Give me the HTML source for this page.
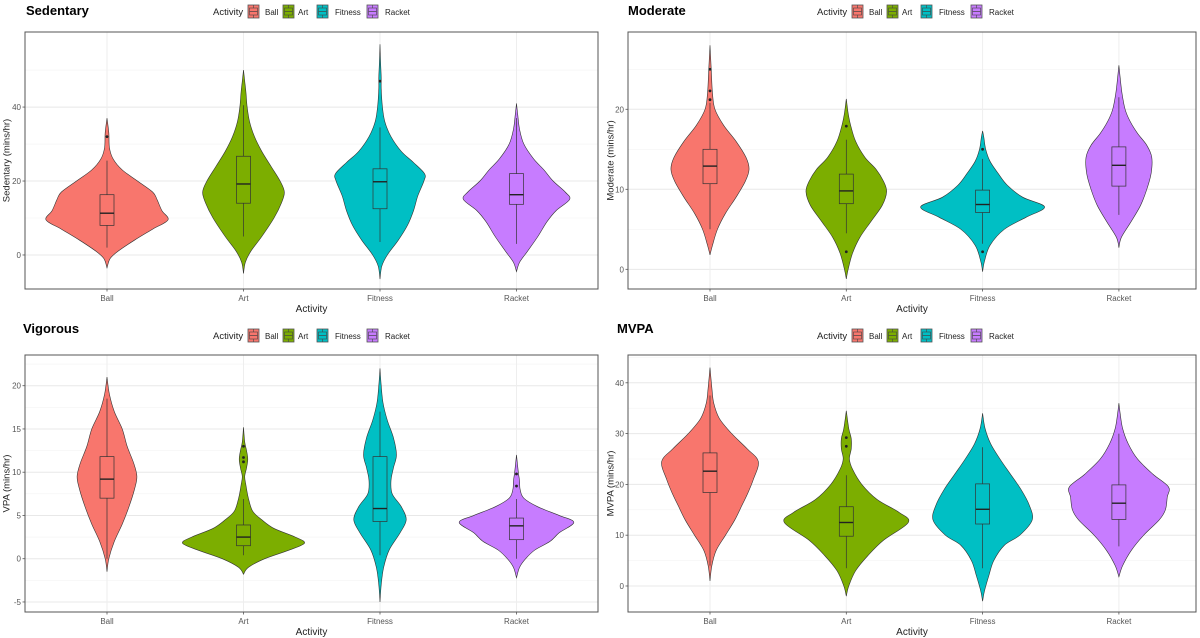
<!DOCTYPE html>
<html><head><meta charset="utf-8">
<style>
html,body{margin:0;padding:0;background:#fff;}
svg{display:block;font-family:"Liberation Sans",sans-serif;}
</style></head>
<body>
<svg id="chart" width="1200" height="638" viewBox="0 0 1200 638"></svg>
<script>
const categories = ["Ball","Art","Fitness","Racket"];
const colors = ["#F8766D","#7CAE00","#00BFC4","#C77CFF"];

// Sedentary
const sedentaryDensity = [
 [[-3.5,0],[-1,0.05],[1,0.18],[4,0.45],[7,0.75],[9.5,1.0],[12,0.9],[15,0.82],[17,0.75],[20,0.5],[23,0.25],[26,0.1],[29,0.04],[33,0.03],[37,0]],
 [[-5,0],[-2,0.03],[1,0.12],[5,0.3],[10,0.5],[14,0.62],[17,0.67],[20,0.6],[24,0.45],[28,0.3],[32,0.18],[36,0.1],[40,0.06],[44,0.04],[47,0.02],[50,0]],
 [[-6.5,0],[-3,0.03],[0,0.12],[4,0.3],[8,0.45],[12,0.55],[16,0.62],[20,0.72],[22,0.73],[25,0.55],[28,0.35],[32,0.18],[36,0.08],[40,0.04],[45,0.02],[48,0.02],[52,0.01],[57,0]],
 [[-4.5,0],[-2,0.05],[1,0.18],[5,0.35],[9,0.5],[12,0.65],[15,0.87],[17,0.8],[20,0.6],[23,0.45],[26,0.28],[30,0.12],[34,0.05],[38,0.02],[41,0]]
];
const sedentaryBoxes = [[2,8,11.3,16.3,25.5],[5,14,19.2,26.7,40.5],[3.5,12.5,19.8,23.3,34.5],[3,13.7,16.3,22,37]];
const sedentaryOutliers = [[32],[],[47],[]];

// Moderate
const moderateDensity = [
 [[1.8,0],[3,0.04],[5,0.12],[7,0.25],[9,0.42],[11,0.57],[12.5,0.63],[14,0.58],[16,0.42],[18,0.22],[20,0.08],[22,0.04],[25,0.02],[28,0]],
 [[-1.2,0],[0,0.03],[2,0.1],[4,0.22],[6,0.4],[8,0.58],[9.7,0.65],[11,0.6],[12.5,0.48],[14,0.3],[16,0.15],[18,0.07],[19.5,0.03],[21.3,0]],
 [[-0.3,0],[1,0.03],[3,0.12],[5,0.35],[6.5,0.7],[7.8,1.0],[9,0.65],[10.5,0.4],[12,0.25],[13.5,0.12],[15,0.05],[16.5,0.02],[17.3,0]],
 [[2.7,0],[4,0.04],[6,0.2],[8,0.35],[10,0.45],[12,0.52],[14,0.53],[15.5,0.45],[17,0.3],[18.5,0.18],[20,0.1],[22,0.05],[24,0.02],[25.5,0]]
];
const moderateBoxes = [[5,10.7,12.9,15,20.8],[4.5,8.2,9.8,11.9,16.2],[3.2,7.1,8.1,9.9,13.8],[6.8,10.4,13,15.3,21.5]];
const moderateOutliers = [[21.2,22.3,25],[2.2,17.9],[2.2,15],[]];

// Vigorous
const vigorousDensity = [
 [[-1.5,0],[0,0.03],[2,0.12],[4,0.25],[6,0.36],[8,0.45],[9.5,0.49],[11,0.44],[13,0.33],[15,0.25],[17,0.12],[19,0.04],[21,0]],
 [[-1.8,0],[-1,0.08],[0,0.35],[1,0.75],[1.8,1.0],[2.5,0.85],[3.5,0.5],[4.5,0.3],[5.5,0.15],[7,0.08],[8.5,0.04],[9.5,0.02],[10.5,0.05],[11.5,0.07],[12.5,0.05],[13.5,0.02],[15.2,0]],
 [[-5,0],[-3,0.02],[-1,0.06],[1,0.15],[3,0.33],[4.5,0.43],[6,0.35],[7.5,0.2],[9,0.18],[10.5,0.22],[12,0.27],[14,0.22],[16,0.12],[18,0.05],[20,0.02],[22,0]],
 [[-2.2,0],[-1,0.05],[0,0.15],[1,0.3],[2,0.55],[3,0.7],[4.2,0.94],[5,0.7],[6,0.35],[7,0.12],[8,0.06],[9,0.05],[10,0.03],[12,0]]
];
const vigorousBoxes = [[0,7,9.2,11.8,18.5],[0.4,1.5,2.5,3.9,6.9],[0.4,4.3,5.8,11.8,17],[0,2.2,3.8,4.7,6.9]];
const vigorousOutliers = [[],[11.2,11.7,13],[],[8.4,9.8]];

// MVPA
const mvpaDensity = [
 [[1,0],[4,0.03],[7,0.1],[10,0.25],[13,0.4],[16,0.52],[18,0.6],[21,0.7],[24.5,0.78],[27,0.6],[30,0.35],[33,0.15],[36,0.06],[39,0.03],[43,0]],
 [[-2,0],[0,0.04],[3,0.15],[6,0.35],[9,0.6],[12.5,1.0],[14.5,0.85],[17,0.5],[20,0.25],[23,0.1],[25,0.05],[27,0.08],[29,0.08],[31,0.04],[34.5,0]],
 [[-3,0],[-1,0.03],[2,0.1],[5,0.18],[8,0.35],[10,0.6],[13,0.8],[16,0.75],[19,0.62],[22,0.45],[25,0.28],[28,0.13],[31,0.04],[34,0]],
 [[1.8,0],[4,0.06],[7,0.2],[10,0.4],[13,0.65],[15,0.75],[17.5,0.78],[19.5,0.8],[22,0.55],[25,0.3],[28,0.15],[31,0.06],[34,0.02],[36,0]]
];
const mvpaBoxes = [[4,18.4,22.6,26.2,37.5],[3.5,9.8,12.5,15.6,21.8],[3.5,12.2,15.1,20.1,27.3],[7.8,13.1,16.3,19.9,30]];
const mvpaOutliers = [[],[27.5,29.2],[],[]];

const sedTicks=[0,20,40], sedMinor=[10,30,50];
const modTicks=[0,10,20], modMinor=[5,15,25];
const vigTicks=[-5,0,5,10,15,20], vigMinor=[-2.5,2.5,7.5,12.5,17.5,22.5];
const mvpaTicks=[0,10,20,30,40], mvpaMinor=[5,15,25,35,45];

const panels = [
 {name:"sedentary",title:"Sedentary",ylab:"Sedentary (mins/hr)",dens:sedentaryDensity,box:sedentaryBoxes,out:sedentaryOutliers,ticks:sedTicks,minor:sedMinor,
  x0:25,x1:598,y0:32,y1:289,dom:[-9.2,60.3],cx0:107,step:136.5,maxW:61,tx:26,ty:15,lx:213,ly:4,ytx:7,tickR:21},
 {name:"moderate",title:"Moderate",ylab:"Moderate (mins/hr)",dens:moderateDensity,box:moderateBoxes,out:moderateOutliers,ticks:modTicks,minor:modMinor,
  x0:628,x1:1196,y0:32,y1:289,dom:[-2.46,29.66],cx0:710,step:136.3,maxW:62,tx:628,ty:15,lx:817,ly:4,ytx:611,tickR:624},
 {name:"vigorous",title:"Vigorous",ylab:"VPA (mins/hr)",dens:vigorousDensity,box:vigorousBoxes,out:vigorousOutliers,ticks:vigTicks,minor:vigMinor,
  x0:25,x1:598,y0:355,y1:612,dom:[-6.16,23.55],cx0:107,step:136.5,maxW:61,tx:23,ty:333,lx:213,ly:328,ytx:7,tickR:21},
 {name:"mvpa",title:"MVPA",ylab:"MVPA (mins/hr)",dens:mvpaDensity,box:mvpaBoxes,out:mvpaOutliers,ticks:mvpaTicks,minor:mvpaMinor,
  x0:628,x1:1196,y0:355,y1:612,dom:[-5.12,45.47],cx0:710,step:136.3,maxW:62,tx:617,ty:333,lx:817,ly:328,ytx:611,tickR:624}
];

const NS="http://www.w3.org/2000/svg";
const svg=document.getElementById("chart");
function mk(tag,attrs,parent){const e=document.createElementNS(NS,tag);for(const k in attrs)e.setAttribute(k,attrs[k]);(parent||svg).appendChild(e);return e;}

function smoothPath(pts){
  let d="M"+pts[0][0].toFixed(2)+","+pts[0][1].toFixed(2);
  for(let i=0;i<pts.length-1;i++){
    const p0=pts[Math.max(0,i-1)],p1=pts[i],p2=pts[i+1],p3=pts[Math.min(pts.length-1,i+2)];
    const c1=[p1[0]+(p2[0]-p0[0])/6,p1[1]+(p2[1]-p0[1])/6];
    const c2=[p2[0]-(p3[0]-p1[0])/6,p2[1]-(p3[1]-p1[1])/6];
    d+=" C"+c1[0].toFixed(2)+","+c1[1].toFixed(2)+" "+c2[0].toFixed(2)+","+c2[1].toFixed(2)+" "+p2[0].toFixed(2)+","+p2[1].toFixed(2);
  }
  return d;
}

panels.forEach(p=>{
  const g=mk("g",{});
  
  
  const yS=v=>p.y1-(v-p.dom[0])/(p.dom[1]-p.dom[0])*(p.y1-p.y0);
  const xS=i=>p.cx0+i*p.step;
  // title
  const t=mk("text",{x:p.tx,y:p.ty,"font-size":"13","font-weight":"bold",fill:"#000"},g);
  t.textContent=p.title;
  
  
  // legend
  const lg=mk("g",{},g);
  
  
  const lt=mk("text",{x:p.lx,y:p.ly+11,"font-size":"9.5",fill:"#222"},lg);
  lt.textContent="Activity";
  const keyX=[35,70,104,154], txtX=[52,85,122,172];
  categories.forEach((c,i)=>{
    const kg=mk("g",{},lg);
    
    
    const kx=p.lx+keyX[i];
    mk("rect",{x:kx,y:p.ly+1,width:11,height:13,fill:colors[i],stroke:"#555","stroke-width":"0.8"},kg);
    mk("rect",{x:kx+1.5,y:p.ly+4,width:8,height:7,fill:"none",stroke:"#444","stroke-width":"0.6"},kg);
    mk("line",{x1:kx+1.5,x2:kx+9.5,y1:p.ly+7.5,y2:p.ly+7.5,stroke:"#444","stroke-width":"0.7"},kg);
    mk("line",{x1:kx+5.5,x2:kx+5.5,y1:p.ly+1,y2:p.ly+4,stroke:"#444","stroke-width":"0.6"},kg);
    mk("line",{x1:kx+5.5,x2:kx+5.5,y1:p.ly+11,y2:p.ly+14,stroke:"#444","stroke-width":"0.6"},kg);
    const tx=mk("text",{x:p.lx+txtX[i],y:p.ly+11,"font-size":"8",fill:"#222"},kg);
    tx.textContent=c;
  });
  // grid
  const clipId="clip-"+p.name;
  const cp=mk("clipPath",{id:clipId},g);
  mk("rect",{x:p.x0,y:p.y0,width:p.x1-p.x0,height:p.y1-p.y0},cp);
  const grid=mk("g",{"clip-path":"url(#"+clipId+")"},g);
  
  
  p.minor.forEach(v=>{const y=yS(v);mk("line",{x1:p.x0,x2:p.x1,y1:y,y2:y,stroke:"#f3f3f3","stroke-width":"0.6"},grid);});
  p.ticks.forEach(v=>{const y=yS(v);mk("line",{x1:p.x0,x2:p.x1,y1:y,y2:y,stroke:"#e8e8e8","stroke-width":"1"},grid);});
  categories.forEach((c,i)=>{const x=xS(i);mk("line",{x1:x,x2:x,y1:p.y0,y2:p.y1,stroke:"#eeeeee","stroke-width":"1"},grid);});
  // violins
  categories.forEach((c,i)=>{
    const cx=xS(i);
    const d=p.dens[i];
    const right=d.map(([v,w])=>[cx+w*p.maxW,yS(v)]);
    const left=d.slice().reverse().map(([v,w])=>[cx-w*p.maxW,yS(v)]);
    const pr=smoothPath(right), pl=smoothPath(left);
    const path=pr+" L"+pl.slice(1)+" Z";
    const vg=mk("g",{"clip-path":"url(#"+clipId+")"},g);
    
    
    mk("path",{d:path,fill:colors[i],stroke:"#333","stroke-width":"0.6"},vg);
    const b=p.box[i];
    const bw=7;
    const bx=mk("g",{},vg);
    
    
    mk("line",{x1:cx,x2:cx,y1:yS(b[0]),y2:yS(b[1]),stroke:"#333","stroke-width":"0.7"},bx);
    mk("line",{x1:cx,x2:cx,y1:yS(b[3]),y2:yS(b[4]),stroke:"#333","stroke-width":"0.7"},bx);
    mk("rect",{x:cx-bw,y:yS(b[3]),width:2*bw,height:yS(b[1])-yS(b[3]),fill:"none",stroke:"#333","stroke-width":"0.7"},bx);
    mk("line",{x1:cx-bw,x2:cx+bw,y1:yS(b[2]),y2:yS(b[2]),stroke:"#222","stroke-width":"1.4"},bx);
    p.out[i].forEach(v=>{
      const o=mk("circle",{cx:cx,cy:yS(v),r:1.4,fill:"#222"},bx);
      
      
    });
  });
  // frame
  const fr=mk("rect",{x:p.x0,y:p.y0,width:p.x1-p.x0,height:p.y1-p.y0,fill:"none",stroke:"#555","stroke-width":"1"},g);
  
  
  // y ticks
  const ya=mk("g",{},g);
  
  
  p.ticks.forEach(v=>{
    const y=yS(v);
    mk("line",{x1:p.x0-2.5,x2:p.x0,y1:y,y2:y,stroke:"#555","stroke-width":"0.8"},ya);
    const tl=mk("text",{x:p.tickR,y:y+3,"font-size":"8","text-anchor":"end",fill:"#555"},ya);
    tl.textContent=String(v);
  });
  const yt=mk("text",{x:p.ytx,y:(p.y0+p.y1)/2,"font-size":"9.5","text-anchor":"middle",fill:"#222",transform:"rotate(-90 "+p.ytx+" "+((p.y0+p.y1)/2)+")","dominant-baseline":"central"},ya);
  yt.textContent=p.ylab;
  
  
  // x ticks
  const xa=mk("g",{},g);
  
  
  categories.forEach((c,i)=>{
    const x=xS(i);
    mk("line",{x1:x,x2:x,y1:p.y1,y2:p.y1+2.5,stroke:"#555","stroke-width":"0.8"},xa);
    const tl=mk("text",{x:x,y:p.y1+12,"font-size":"8","text-anchor":"middle",fill:"#555"},xa);
    tl.textContent=c;
  });
  const xt=mk("text",{x:(p.x0+p.x1)/2,y:p.y1+23,"font-size":"10","text-anchor":"middle",fill:"#222"},xa);
  xt.textContent="Activity";
  
  
});
</script>
</body></html>
